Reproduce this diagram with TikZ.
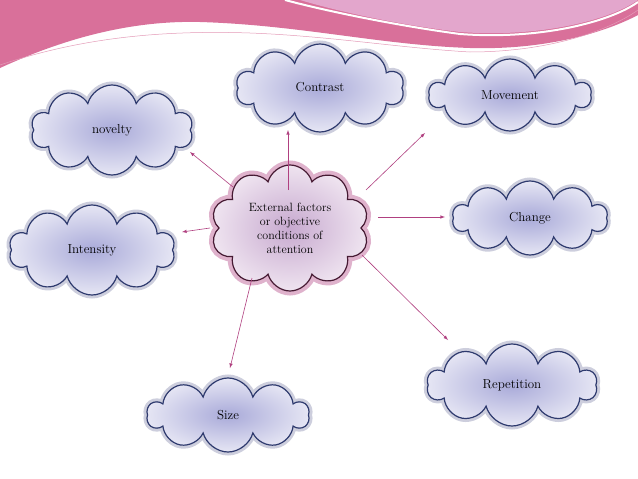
\documentclass[tikz,border=0pt]{standalone}
\usetikzlibrary{shapes.symbols}
\begin{document}
\begin{tikzpicture}[x=1pt,y=-1pt,
 cl/.style={cloud,cloud puffs=10,cloud ignores aspect,draw=navy,line width=1.2pt,inner color=cin,outer color=cout,font=\fontsize{13}{15}\selectfont,align=center},
 glow/.style={cloud,cloud puffs=10,cloud ignores aspect,draw=glowc,line width=7pt,draw opacity=0.3},
 arr/.style={-latex,draw=arrc,line width=0.6pt}]
\definecolor{navy}{HTML}{2E3A6E}
\definecolor{cin}{HTML}{A9AAD9}
\definecolor{cout}{HTML}{E6E6F4}
\definecolor{glowc}{HTML}{5A6090}
\definecolor{arrc}{HTML}{B04080}
\definecolor{pinkA}{HTML}{D9709A}
\definecolor{pinkB}{HTML}{E3A6CC}
\definecolor{cenin}{HTML}{C7A9CF}
\definecolor{cenout}{HTML}{EFE4F0}
\useasboundingbox (0,0) rectangle (638,479);
\fill[white] (0,0) rectangle (638,479);
% banner
\fill[pinkA] (0,0) -- (638,0) -- (638,15) .. controls (600,35) and (540,50) .. (470,48) .. controls (380,45) and (300,25) .. (200,22) .. controls (120,20) and (50,45) .. (0,68) -- cycle;
\fill[pinkB] (300,0) .. controls (340,12) and (400,25) .. (460,32) .. controls (540,38) and (610,20) .. (638,0) -- cycle;
\draw[white,line width=2pt] (285,0) .. controls (330,12) and (400,26) .. (460,34) .. controls (540,40) and (610,22) .. (638,2);
\draw[pinkA!70,line width=0.5pt] (0,65) .. controls (80,38) and (160,30) .. (250,33) .. controls (330,36) and (400,48) .. (470,52) .. controls (550,52) and (610,30) .. (638,10);
% glows
\foreach \x/\y/\w/\h in {320/88/168/88, 510/95/162/72, 112/130/162/90, 530/218/155/74, 92/250/166/90, 512/385/170/82, 228/415/162/74}
  \node[glow,minimum width=\w,minimum height=\h] at (\x,\y) {};
\node[glow,draw=arrc,draw opacity=0.4,line width=9pt,minimum width=158,minimum height=126] at (290,228) {};
% clouds
\node[cl,minimum width=168,minimum height=88] (contrast) at (320,88) {\raisebox{2pt}{Contrast}};
\node[cl,minimum width=162,minimum height=72] (movement) at (510,95) {Movement};
\node[cl,minimum width=162,minimum height=90] (novelty) at (112,130) {novelty};
\node[cl,minimum width=155,minimum height=74] (change) at (530,218) {Change};
\node[cl,minimum width=166,minimum height=90] (intensity) at (92,250) {Intensity};
\node[cl,minimum width=170,minimum height=82] (repetition) at (512,385) {Repetition};
\node[cl,minimum width=162,minimum height=74] (size) at (228,415) {Size};
\node[cl,draw=black!60!arrc,inner color=cenin,outer color=cenout,minimum width=158,minimum height=126,font=\fontsize{12}{14}\selectfont] (center) at (290,228) {External factors\\or objective\\conditions of\\attention};
% arrow endpoints
\coordinate (sN) at (233,187); \coordinate (eN) at (190,152);
\coordinate (sC) at (288,190); \coordinate (eC) at (288,130);
\coordinate (sM) at (366,190); \coordinate (eM) at (425,133);
\coordinate (sG) at (378,217); \coordinate (eG) at (445,217);
\coordinate (sI) at (210,228); \coordinate (eI) at (182,232);
\coordinate (sR) at (362,255); \coordinate (eR) at (448,340);
\coordinate (sS) at (252,278); \coordinate (eS) at (230,368);
\draw[arr] (sN) -- (eN);
\draw[arr] (sC) -- (eC);
\draw[arr] (sM) -- (eM);
\draw[arr] (sG) -- (eG);
\draw[arr] (sI) -- (eI);
\draw[arr] (sR) -- (eR);
\draw[arr] (sS) -- (eS);
\end{tikzpicture}
\end{document}
